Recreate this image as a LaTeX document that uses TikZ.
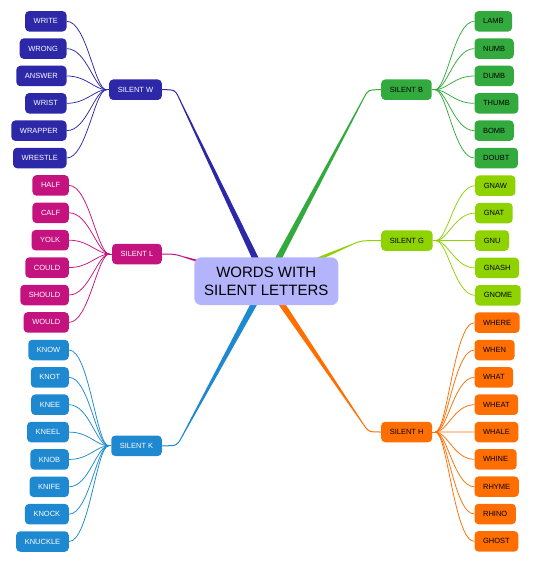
\documentclass[tikz,border=0pt]{standalone}
\usepackage{fontspec}
\setmainfont{Liberation Sans}
\usetikzlibrary{calc}
\definecolor{cW}{HTML}{2C28A8}
\definecolor{cL}{HTML}{C4127F}
\definecolor{cK}{HTML}{1E88D0}
\definecolor{cB}{HTML}{33AA3E}
\definecolor{cG}{HTML}{8ED200}
\definecolor{cH}{HTML}{FF6E00}
\definecolor{cC}{HTML}{B4B4FC}
\pgfdeclarelayer{bg}
\pgfsetlayers{bg,main}
\tikzset{
  box/.style={rounded corners=4pt, inner xsep=8.6pt, inner ysep=0pt,
    minimum height=20.5pt, font=\fontsize{7.5}{9}\selectfont},
  boxW/.style={box, fill=cW, text=white},
  boxL/.style={box, fill=cL, text=white},
  boxK/.style={box, fill=cK, text=white},
  boxB/.style={box, fill=cB, text=black},
  boxG/.style={box, fill=cG, text=black},
  boxH/.style={box, fill=cH, text=black},
  mainbox/.style={rounded corners=7pt, fill=cC, minimum width=144pt,
    minimum height=47.7pt, inner sep=0pt, align=center,
    font=\fontsize{15}{17.3}\selectfont},
  twig/.style={line width=0.75pt},
}
\newcommand\mybranch[3]{%
  \coordinate (brK) at ($(#2)+(#3,0)$);
  \coordinate (brB) at ($(brK)!9pt!(ctr.center)$);
  \draw[#1, line width=1pt] (#2) .. controls (brK) .. (brB);
  \fill[#1] ($(brB)!0.5pt!90:(ctr.center)$) -- ($(ctr.center)!3.5pt!-90:(brB)$)
    -- ($(ctr.center)!3.5pt!90:(brB)$) -- ($(brB)!0.5pt!-90:(ctr.center)$) -- cycle;
}
\begin{document}
\begin{tikzpicture}[x=1pt, y=-1pt]
\useasboundingbox (0,0) rectangle (533,563);

% centre
\node[mainbox] (ctr) at (266.3,281.2) {WORDS WITH\\SILENT LETTERS};

% hubs
\node[boxW, anchor=east] (hw) at (162,89.7) {SILENT W};
\node[boxL, anchor=east] (hl) at (162,254) {SILENT L};
\node[boxK, anchor=east] (hk) at (162,445.8) {SILENT K};
\node[boxB, anchor=west] (hb) at (381,89.7) {SILENT B};
\node[boxG, anchor=west] (hg) at (381,240.6) {SILENT G};
\node[boxH, anchor=west] (hh) at (381,432) {SILENT H};

% leaves
\foreach \t [count=\i from 0] in {WRITE,WRONG,ANSWER,WRIST,WRAPPER,WRESTLE}
  \node[boxW, anchor=east] (w\i) at (66.7, 21.3+27.34*\i) {\t};
\foreach \t [count=\i from 0] in {HALF,CALF,YOLK,COULD,SHOULD,WOULD}
  \node[boxL, anchor=east] (l\i) at (69, 185.4+27.4*\i) {\t};
\foreach \t [count=\i from 0] in {KNOW,KNOT,KNEE,KNEEL,KNOB,KNIFE,KNOCK,KNUCKLE}
  \node[boxK, anchor=east] (k\i) at (69, 350+27.36*\i) {\t};
\foreach \t [count=\i from 0] in {LAMB,NUMB,DUMB,THUMB,BOMB,DOUBT}
  \node[boxB, anchor=west] (b\i) at (474.3, 21.3+27.34*\i) {\t};
\foreach \t [count=\i from 0] in {GNAW,GNAT,GNU,GNASH,GNOME}
  \node[boxG, anchor=west] (g\i) at (475, 185.7+27.4*\i) {\t};
\foreach \t [count=\i from 0] in {WHERE,WHEN,WHAT,WHEAT,WHALE,WHINE,RHYME,RHINO,GHOST}
  \node[boxH, anchor=west] (h\i) at (474.3, 322.7+27.33*\i) {\t};

\begin{pgfonlayer}{bg}
  % junction points
  \coordinate (wj) at ($(hw.west)+(-2.5,0)$);
  \coordinate (lj) at ($(hl.west)+(-2.5,0)$);
  \coordinate (kj) at ($(hk.west)+(-2.5,0)$);
  \coordinate (bj) at ($(hb.east)+(3,0)$);
  \coordinate (gj) at ($(hg.east)+(3,0)$);
  \coordinate (hj) at ($(hh.east)+(3,0)$);
  \draw[twig, cW] (wj) -- (hw.west);
  \draw[twig, cL] (lj) -- (hl.west);
  \draw[twig, cK] (kj) -- (hk.west);
  \draw[twig, cB] (bj) -- (hb.east);
  \draw[twig, cG] (gj) -- (hg.east);
  \draw[twig, cH] (hj) -- (hh.east);
  \foreach \i in {0,...,5}
    \draw[twig, cW] (w\i.east) .. controls +(20,0) and +(-12,0) .. (wj);
  \foreach \i in {0,...,5}
    \draw[twig, cL] (l\i.east) .. controls +(20,0) and +(-12,0) .. (lj);
  \foreach \i in {0,...,7}
    \draw[twig, cK] (k\i.east) .. controls +(20,0) and +(-12,0) .. (kj);
  \foreach \i in {0,...,5}
    \draw[twig, cB] (bj) .. controls +(12,0) and +(-20,0) .. (b\i.west);
  \foreach \i in {0,...,4}
    \draw[twig, cG] (gj) .. controls +(12,0) and +(-20,0) .. (g\i.west);
  \foreach \i in {0,...,8}
    \draw[twig, cH] (hj) .. controls +(12,0) and +(-20,0) .. (h\i.west);
  % main branches
  \mybranch{cW}{hw.east}{13}
  \mybranch{cL}{hl.east}{12}
  \mybranch{cK}{hk.east}{15}
  \mybranch{cB}{hb.west}{-12.8}
  \mybranch{cG}{hg.west}{-20}
  \mybranch{cH}{hh.west}{-12.4}
\end{pgfonlayer}
\end{tikzpicture}
\end{document}
